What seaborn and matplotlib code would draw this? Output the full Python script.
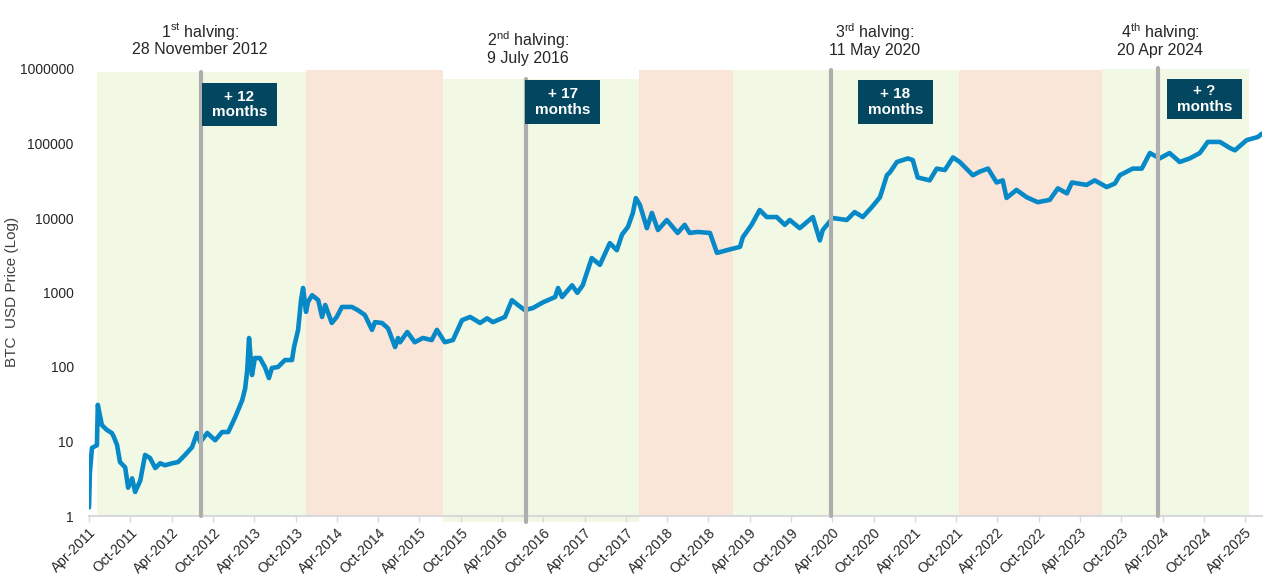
import pandas as pd
import matplotlib.pyplot as plt
import matplotlib.dates as mdates
from matplotlib.patches import Rectangle
from matplotlib.ticker import NullLocator
import seaborn as sns

# BTC price (date, USD)
dates = [
    '2011-04-01', '2011-04-05', '2011-04-14', '2011-05-06', '2011-05-10', '2011-05-28', '2011-06-19',
    '2011-07-11', '2011-07-20', '2011-08-03', '2011-08-16', '2011-09-08', '2011-09-21', '2011-10-09',
    '2011-10-22', '2011-11-14', '2011-12-05', '2011-12-27', '2012-01-19', '2012-02-10', '2012-03-02',
    '2012-04-03', '2012-04-29', '2012-05-30', '2012-06-30', '2012-07-22', '2012-08-05', '2012-09-05',
    '2012-10-10', '2012-11-10', '2012-12-07', '2013-01-07', '2013-02-07', '2013-02-20', '2013-03-01',
    '2013-03-09', '2013-03-22', '2013-04-04', '2013-04-26', '2013-05-18', '2013-06-05', '2013-06-18',
    '2013-07-15', '2013-08-15', '2013-09-15', '2013-09-24', '2013-10-12', '2013-10-25', '2013-11-03',
    '2013-11-16', '2013-11-25', '2013-12-13', '2014-01-09', '2014-01-26', '2014-02-09', '2014-03-10',
    '2014-04-01', '2014-04-24', '2014-06-07', '2014-07-03', '2014-08-03', '2014-09-04', '2014-09-17',
    '2014-10-18', '2014-11-14', '2014-12-15', '2014-12-28', '2015-01-06', '2015-02-07', '2015-03-12',
    '2015-04-17', '2015-05-26', '2015-06-18', '2015-07-23', '2015-08-28', '2015-10-07', '2015-11-12',
    '2015-12-26', '2016-01-26', '2016-02-21', '2016-04-14', '2016-05-15', '2016-06-10', '2016-07-11',
    '2016-08-16', '2016-09-30', '2016-11-22', '2016-12-05', '2016-12-23', '2017-02-05', '2017-02-28',
    '2017-03-24', '2017-05-03', '2017-06-08', '2017-07-22', '2017-08-22', '2017-09-14', '2017-10-10',
    '2017-11-01', '2017-11-14', '2017-12-02', '2018-01-02', '2018-01-24', '2018-02-20', '2018-03-31',
    '2018-05-18', '2018-06-18', '2018-07-10', '2018-08-15', '2018-10-08', '2018-11-08', '2018-12-22',
    '2019-02-18', '2019-03-02', '2019-04-10', '2019-05-16', '2019-06-16', '2019-07-30', '2019-09-04',
    '2019-09-26', '2019-11-09', '2020-01-06', '2020-02-06', '2020-02-19', '2020-04-03', '2020-06-04',
    '2020-07-09', '2020-08-14', '2020-09-23', '2020-10-29', '2020-11-29', '2020-12-12', '2021-01-12',
    '2021-03-01', '2021-03-23', '2021-04-14', '2021-06-06', '2021-07-07', '2021-08-12', '2021-09-17',
    '2021-10-17', '2021-12-14', '2022-01-14', '2022-02-19', '2022-03-29', '2022-04-25', '2022-05-12',
    '2022-06-25', '2022-08-09', '2022-09-27', '2022-11-19', '2022-12-25', '2023-02-03', '2023-02-25',
    '2023-05-01', '2023-06-06', '2023-07-29', '2023-09-03', '2023-09-25', '2023-11-21', '2023-12-31',
    '2024-02-05', '2024-03-19', '2024-05-02', '2024-06-16', '2024-07-30', '2024-09-13', '2024-10-18',
    '2024-12-11', '2025-01-24', '2025-02-15', '2025-04-08', '2025-05-27', '2025-06-14',
]
prices = [
    1.3, 3.8, 8.2, 8.9, 31, 16.6, 14.3,
    13, 11.5, 9, 5.3, 4.5, 2.4, 3.2,
    2.1, 3.0, 6.6, 6.0, 4.4, 5.1, 4.8,
    5.1, 5.3, 6.6, 8.4, 13, 9.8, 13,
    10.4, 13.4, 13.4, 21.3, 36, 52, 91,
    245, 78, 132, 132, 100, 71, 97,
    100, 124, 124, 185, 315, 790, 1150,
    550, 750, 920, 790, 470, 680, 390,
    470, 640, 640, 580, 500, 315, 400,
    390, 330, 185, 245, 215, 295, 215,
    245, 230, 315, 215, 230, 425, 470,
    390, 450, 400, 470, 790, 680, 580,
    620, 740, 870, 1150, 870, 1250, 990,
    1250, 2900, 2350, 4600, 3700, 6000, 7600,
    11700, 18500, 15000, 7300, 11700, 6900, 9400,
    6300, 8100, 6300, 6500, 6300, 3400, 3700,
    4100, 5500, 8100, 12800, 10300, 10300, 8100,
    9400, 7300, 10300, 5000, 6900, 10000, 9400,
    12000, 10300, 14000, 19000, 37700, 41000, 56500,
    63000, 60000, 35000, 32000, 46000, 44000, 65000,
    56500, 37500, 42000, 46000, 30000, 32000, 18600,
    23800, 19000, 16300, 17500, 25000, 21400, 30000,
    27800, 32000, 26000, 29000, 37500, 46000, 46000,
    74500, 63000, 74500, 56500, 63000, 74500, 105000,
    105000, 87000, 81000, 111000, 122000, 135000,
]

# shaded phases (start, end, kind)
phase_starts = ['2011-05-06', '2013-11-16', '2015-07-14', '2017-11-28', '2019-01-18', '2021-10-13', '2023-07-06']
phase_ends = ['2013-11-16', '2015-07-14', '2017-11-28', '2019-01-18', '2021-10-13', '2023-07-06', '2025-04-17']
phase_kinds = ['up', 'down', 'up', 'down', 'up', 'down', 'up']

# halving markers as placed on the chart
halving_dates = ['2012-08-09', '2016-07-16', '2020-03-25', '2024-03-10']
halving_titles = ['1$^{st}$ halving:', '2$^{nd}$ halving:', '3$^{rd}$ halving:', '4$^{th}$ halving:']
halving_subtitles = ['28 November 2012', '9 July 2016', '11 May 2020', '20 Apr 2024']
lag_labels = ['+ 12\nmonths', '+ 17\nmonths', '+ 18\nmonths', '+ ?\nmonths']

df = pd.DataFrame({'date': pd.to_datetime(dates), 'price': prices})

sns.set_theme(style='white')
plt.rcParams['font.family'] = ['Liberation Sans', 'DejaVu Sans']
plt.rcParams['mathtext.fontset'] = 'custom'
plt.rcParams['mathtext.rm'] = 'Liberation Sans'
plt.rcParams['mathtext.default'] = 'regular'

W, H = 1268, 584
fig, ax = plt.subplots(figsize=(W / 100, H / 100), dpi=100)
fig.subplots_adjust(left=89 / W, right=1262 / W, bottom=1 - 516 / H, top=1 - 69 / H)

# background phases
colors = {'up': '#F1F9E5', 'down': '#FAE5D9'}
tops = [0.993, 0.998, 0.978, 0.998, 0.998, 0.998, 1.0]
bottoms = [0, 0, -0.014, 0, 0, 0, 0]
for s, e, k, t, b in zip(phase_starts, phase_ends, phase_kinds, tops, bottoms):
    ax.axvspan(pd.Timestamp(s), pd.Timestamp(e), ymin=b, ymax=t, color=colors[k],
               lw=0, zorder=0, clip_on=False)

sns.lineplot(data=df, x='date', y='price', ax=ax, color='#0789C8', lw=3.3, zorder=2)
ax.lines[-1].set_solid_joinstyle('round')

# halving lines
line_tops = [0.993, 0.978, 0.998, 1.002]
line_bottoms = [0, -0.014, 0, 0]
for d, t, b in zip(halving_dates, line_tops, line_bottoms):
    ax.axvline(pd.Timestamp(d), ymin=b, ymax=t, color='#AEAEAE', lw=3, zorder=3, clip_on=False)

ax.set_yscale('log')
ax.set_ylim(1, 1e6)
ax.set_xlim(pd.Timestamp('2011-04-01'), pd.Timestamp('2025-06-15'))
ax.set_yticks([1, 10, 100, 1000, 10000, 100000, 1000000])
ax.set_yticklabels(['1', '10', '100', '1000', '10000', '100000', '1000000'])
ax.yaxis.set_minor_locator(NullLocator())
ax.xaxis.set_major_locator(mdates.MonthLocator(bymonth=[4, 10]))
ax.xaxis.set_major_formatter(mdates.DateFormatter('%b-%Y'))
ax.xaxis.set_minor_locator(NullLocator())
ax.set_xlabel('')
ax.set_ylabel('')

ax.tick_params(axis='y', length=0, pad=11, labelsize=10, labelcolor='#262626')
ax.tick_params(axis='x', length=4, width=1, color='#D9D9D9', pad=3, labelsize=10,
               labelcolor='#262626', bottom=True)
for lab in ax.get_xticklabels():
    lab.set_rotation(45)
    lab.set_ha('right')
    lab.set_va('top')
    lab.set_rotation_mode('anchor')

for side in ['left', 'top', 'right']:
    ax.spines[side].set_visible(False)
ax.spines['bottom'].set_color('#D9D9D9')
ax.spines['bottom'].set_linewidth(1.5)
ax.grid(False)

fig.text(12 / W, 1 - 292 / H, 'BTC  USD Price (Log)', rotation=90, ha='center', va='center',
         fontsize=11, color='#404040')

# halving titles
title_x = [200, 528, 875, 1160]
title_y = [32, 40, 32, 32]
for x, y, t1, t2 in zip(title_x, title_y, halving_titles, halving_subtitles):
    fig.text(x / W, 1 - y / H, t1, ha='center', va='center', fontsize=11.5, color='#262626')
    fig.text(x / W, 1 - (y + 18) / H, t2, ha='center', va='center', fontsize=11.5, color='#262626')

# lag boxes
box_left = [202, 525, 858, 1167]
box_top = [83, 80, 80, 79]
box_h = [43, 44, 44, 40]
for x0, y0, h, lab in zip(box_left, box_top, box_h, lag_labels):
    fig.add_artist(Rectangle((x0 / W, 1 - (y0 + h) / H), 75 / W, h / H, transform=fig.transFigure,
                             facecolor='#02465F', edgecolor='none', zorder=5))
    fig.text((x0 + 37.5) / W, 1 - (y0 + h / 2) / H, lab, ha='center', va='center', fontsize=11,
             fontweight='bold', color='white', linespacing=1.15, zorder=6)

plt.savefig('out.png', dpi=100)
